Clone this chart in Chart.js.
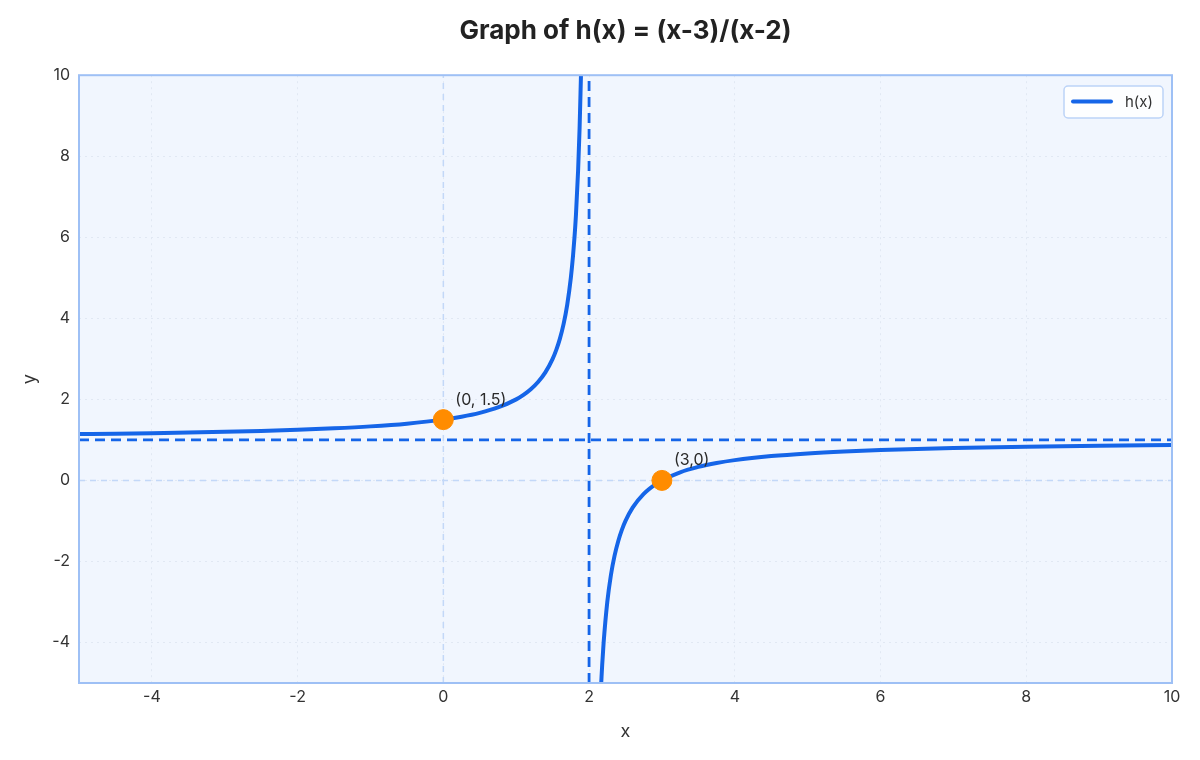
<!DOCTYPE html>
<html>
<head>
<meta charset="utf-8">
<script src="https://cdn.jsdelivr.net/npm/chart.js"></script>
<style>
  html, body { margin: 0; padding: 0; background: #ffffff; }
  #wrap { width: 1200px; height: 760px; }
</style>
</head>
<body>
<div id="wrap"><canvas id="chart" width="1200" height="760"></canvas></div>
<script>
// values
const leftX = [-5, -4.5, -4, -3.5, -3, -2.5, -2, -1.5, -1, -0.5, 0, 0.25, 0.5, 0.75, 1.0, 1.1, 1.2, 1.3, 1.4, 1.5, 1.55, 1.6, 1.65, 1.7, 1.75, 1.78, 1.8, 1.82, 1.85, 1.87, 1.8889];
const leftY = [1.1429, 1.1538, 1.1667, 1.1818, 1.2, 1.2222, 1.25, 1.2857, 1.3333, 1.4, 1.5, 1.5714, 1.6667, 1.8, 2.0, 2.1111, 2.25, 2.4286, 2.6667, 3.0, 3.2222, 3.5, 3.8571, 4.3333, 5.0, 5.5455, 6.0, 6.5556, 7.6667, 8.6923, 10.0];
const rightX = [2.1667, 2.18, 2.2, 2.25, 2.3, 2.35, 2.4, 2.45, 2.5, 2.6, 2.75, 2.9, 3, 3.25, 3.5, 3.75, 4, 4.5, 5, 5.5, 6, 7, 8, 9, 10];
const rightY = [-5.0, -4.5556, -4.0, -3.0, -2.3333, -1.8571, -1.5, -1.2222, -1.0, -0.6667, -0.3333, -0.1111, 0, 0.2, 0.3333, 0.4286, 0.5, 0.6, 0.6667, 0.7143, 0.75, 0.8, 0.8333, 0.8571, 0.875];

const keyX = [0, 3];
const keyY = [1.5, 0];
const keyLabels = ['(0, 1.5)', '(3,0)'];

const vAsymX = [2, 2];
const vAsymY = [-5, 10];
const hAsymX = [-5, 10];
const hAsymY = [1, 1];

const xTicks = [-4, -2, 0, 2, 4, 6, 8, 10];
const yTicks = [-4, -2, 0, 2, 4, 6, 8, 10];

const titleText = 'Graph of h(x) = (x-3)/(x-2)';
const seriesLabel = 'h(x)';

const blue = '#1565e8';
const orange = '#ff8c00';
const FONT = 'Inter, "DejaVu Sans", sans-serif';

function pts(xs, ys) {
    return xs.map((x, i) => ({ x: x, y: ys[i] }));
}

// фон и рамка области графика
const areaPlugin = {
    id: 'area',
    beforeDraw(chart) {
        const a = chart.chartArea;
        const ctx = chart.ctx;
        ctx.save();
        ctx.fillStyle = '#f1f6fe';
        ctx.fillRect(a.left, a.top, a.right - a.left, a.bottom - a.top);
        ctx.restore();
    },
    afterDraw(chart) {
        const a = chart.chartArea;
        const ctx = chart.ctx;
        ctx.save();
        ctx.strokeStyle = '#9ec0f5';
        ctx.lineWidth = 2;
        ctx.strokeRect(a.left, a.top, a.right - a.left, a.bottom - a.top);

        // подписи ключевых точек
        const xs = chart.scales.x, ys = chart.scales.y;
        ctx.fillStyle = '#2a2a2a';
        ctx.font = '16px ' + FONT;
        ctx.textAlign = 'left';
        ctx.textBaseline = 'alphabetic';
        keyX.forEach((v, i) => {
            ctx.fillText(keyLabels[i], xs.getPixelForValue(v) + 12, ys.getPixelForValue(keyY[i]) - 15);
        });

        // легенда
        const bx = 1064, by = 86, bw = 99, bh = 32;
        ctx.fillStyle = 'rgba(255,255,255,0.85)';
        ctx.strokeStyle = '#bcd3f7';
        ctx.lineWidth = 1.5;
        ctx.beginPath();
        ctx.roundRect(bx, by, bw, bh, 4);
        ctx.fill();
        ctx.stroke();
        ctx.strokeStyle = blue;
        ctx.lineWidth = 4;
        ctx.lineCap = 'round';
        ctx.beginPath();
        ctx.moveTo(bx + 9, by + 15.5);
        ctx.lineTo(bx + 47, by + 15.5);
        ctx.stroke();
        ctx.fillStyle = '#333';
        ctx.font = '15px ' + FONT;
        ctx.textBaseline = 'middle';
        ctx.fillText(seriesLabel, bx + 61, by + 16);
        ctx.restore();
    }
};

const ctx = document.getElementById('chart').getContext('2d');
const chart = new Chart(ctx, {
    type: 'scatter',
    data: {
        datasets: [
            {
                label: 'x0', data: pts([0, 0], [-5, 10]), showLine: true,
                borderColor: '#c3d8f8', borderWidth: 1.5, borderDash: [6, 5], pointRadius: 0, order: 5
            },
            {
                label: 'y0', data: pts([-5, 10], [0, 0]), showLine: true,
                borderColor: '#c3d8f8', borderWidth: 1.5, borderDash: [6, 5], pointRadius: 0, order: 5
            },
            {
                label: 'va', data: pts(vAsymX, vAsymY), showLine: true,
                borderColor: blue, borderWidth: 2.8, borderDash: [10, 6], pointRadius: 0, order: 3
            },
            {
                label: 'ha', data: pts(hAsymX, hAsymY), showLine: true,
                borderColor: blue, borderWidth: 2.8, borderDash: [10, 6], pointRadius: 0, order: 3
            },
            {
                label: seriesLabel, data: pts(leftX, leftY), showLine: true,
                borderColor: blue, borderWidth: 4, pointRadius: 0,
                cubicInterpolationMode: 'monotone', order: 2
            },
            {
                label: seriesLabel + ' (right)', data: pts(rightX, rightY), showLine: true,
                borderColor: blue, borderWidth: 4, pointRadius: 0,
                cubicInterpolationMode: 'monotone', order: 2
            },
            {
                label: 'points', data: pts(keyX, keyY), showLine: false,
                backgroundColor: orange, borderColor: orange, pointRadius: 10, order: 1
            }
        ]
    },
    options: {
        responsive: false,
        animation: false,
        layout: { padding: { left: 0, right: 28, top: 0, bottom: 0 } },
        plugins: {
            legend: { display: false },
            tooltip: { enabled: false },
            title: {
                display: true,
                fullSize: false,
                text: titleText,
                color: '#222',
                font: { family: FONT, size: 26, weight: 'bold' },
                padding: { top: 16, bottom: 28 }
            }
        },
        scales: {
            x: {
                type: 'linear', min: -5, max: 10,
                afterBuildTicks: s => { s.ticks = xTicks.map(v => ({ value: v })); },
                afterFit: s => { s.height = 77; },
                ticks: { color: '#333', font: { family: FONT, size: 16 }, padding: 5 },
                grid: { color: '#e1e8f3', lineWidth: 1, drawTicks: false },
                border: { display: false, dash: [2, 4] },
                title: { display: true, text: 'x', color: '#333', font: { family: FONT, size: 18 }, padding: { top: 0, bottom: 18 } }
            },
            y: {
                type: 'linear', min: -5, max: 10,
                afterBuildTicks: s => { s.ticks = yTicks.map(v => ({ value: v })); },
                afterFit: s => { s.width = 79; },
                ticks: { color: '#333', font: { family: FONT, size: 16 }, padding: 9 },
                grid: { color: '#e1e8f3', lineWidth: 1, drawTicks: false },
                border: { display: false, dash: [2, 4] },
                title: { display: true, text: 'y', color: '#333', font: { family: FONT, size: 18 }, padding: { top: 19, bottom: 0 } }
            }
        }
    },
    plugins: [areaPlugin]
});
</script>
</body>
</html>
